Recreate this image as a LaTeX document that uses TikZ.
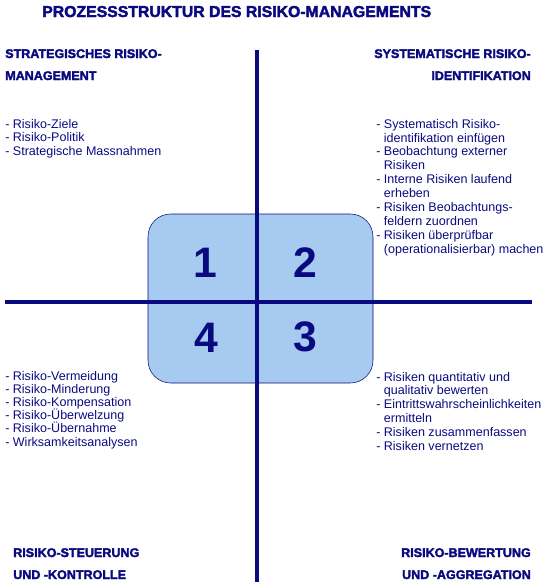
\documentclass[tikz,border=0pt]{standalone}
\usepackage{fontspec}
\setmainfont{Liberation Sans}
\newfontfamily\kopffont{Liberation Sans}[BoldFeatures={FakeBold=2.5}]
\definecolor{marine}{RGB}{10,10,128}
\definecolor{hellblau}{RGB}{166,202,240}
\newcommand{\weiter}{\hphantom{- }}

\begin{document}
\begin{tikzpicture}[x=0.75pt,y=-0.75pt,
  every node/.style={inner sep=0pt,text=marine},
  kopf/.style={font=\kopffont\bfseries\fontsize{9.4}{16.5}\selectfont},
  titel/.style={font=\kopffont\bfseries\fontsize{11.85}{12}\selectfont},
  liste/.style={align=left,anchor=base west,font=\fontsize{9.4}{#1}\selectfont},
  liste/.default=10.2,
  ziffer/.style={font=\bfseries\fontsize{32}{32}\selectfont},
  achse/.style={draw=marine,line width=3pt}]
  \useasboundingbox (0,0) rectangle (550,582);

  % Mittelfeld
  \draw[fill=hellblau,draw=marine,rounded corners=17] (148,214) rectangle (373,383);
  \coordinate (oben) at (257,50);
  \coordinate (unten) at (257,582);
  \coordinate (links) at (5,302);
  \coordinate (rechts) at (532,302);
  \draw[achse] (oben) -- (unten);
  \draw[achse] (links) -- (rechts);

  \node[ziffer] (eins) at (205,263) {1};
  \node[ziffer] (zwei) at (305,263) {2};
  \node[ziffer] (drei) at (305,337) {3};
  \node[ziffer] (vier) at (206,338) {4};

  \node[titel,anchor=base west] (titelzeile) at (42,17) {PROZESSSTRUKTUR DES RISIKO-MANAGEMENTS};

  % Quadranten (base = Grundlinie der letzten Zeile)
  \node[kopf,align=left,anchor=base west] (strategie) at (5,80)
    {STRATEGISCHES RISIKO-\\MANAGEMENT};
  \node[kopf,align=right,anchor=base east] (ident) at (531,80)
    {SYSTEMATISCHE RISIKO-\\IDENTIFIKATION};
  \node[kopf,align=left,anchor=base west] (steuerung) at (13,579)
    {RISIKO-STEUERUNG\\UND -KONTROLLE};
  \node[kopf,align=right,anchor=base east] (bewertung) at (531,579)
    {RISIKO-BEWERTUNG\\UND -AGGREGATION};

  \node[liste=10.1] (ziele) at (5,155)
    {- Risiko-Ziele\\- Risiko-Politik\\- Strategische Massnahmen};
  \node[liste=10.4] (erkennen) at (376,253)
    {- Systematisch Risiko-\\\weiter identifikation einfügen\\- Beobachtung externer\\\weiter Risiken\\
     - Interne Risiken laufend\\\weiter erheben\\- Risiken Beobachtungs-\\\weiter feldern zuordnen\\
     - Risiken überprüfbar\\\weiter (operationalisierbar) machen};
  \node[liste=9.9] (massnahmen) at (5,446)
    {- Risiko-Vermeidung\\- Risiko-Minderung\\- Risiko-Kompensation\\- Risiko-Überwelzung\\
     - Risiko-Übernahme\\- Wirksamkeitsanalysen};
  \node[liste=10.35] (bewerten) at (376,450)
    {- Risiken quantitativ und\\\weiter qualitativ bewerten\\- Eintrittswahrscheinlichkeiten\\\weiter ermitteln\\
     - Risiken zusammenfassen\\- Risiken vernetzen};
\end{tikzpicture}
\end{document}
